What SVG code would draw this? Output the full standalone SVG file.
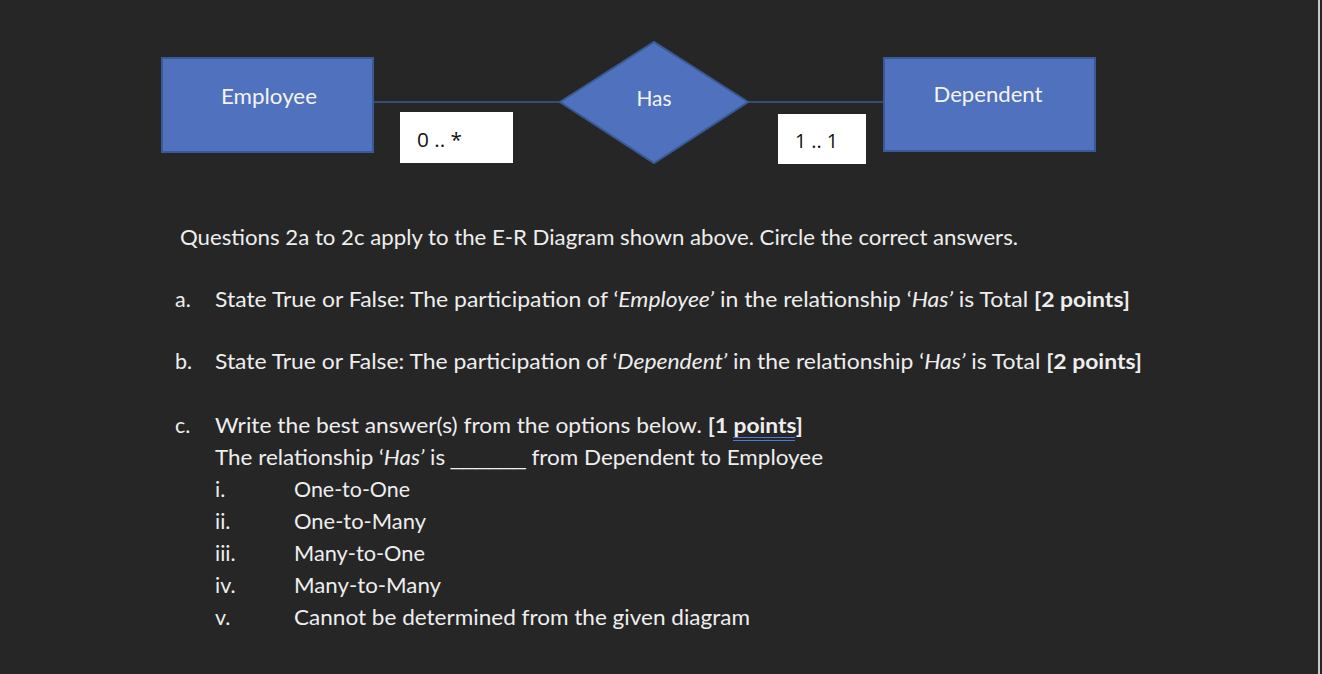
<svg xmlns="http://www.w3.org/2000/svg" width="1322" height="674" viewBox="0 0 1322 674">
<style>
.bg{fill:#262626}
.ent{fill:#4F71BE;stroke:#3A5A95;stroke-width:2}
.lbl{font-family:Lato,"Open Sans","Noto Sans",sans-serif;font-size:21.5px;fill:#F4F4F4;text-anchor:middle}
.card{fill:#FFFFFF}
.ctext{font-family:"Open Sans","Noto Sans",sans-serif;font-size:20px;fill:#111111}
.conn{stroke:#4472C4;stroke-width:1.2;fill:none}
.t{font-family:Lato,"Open Sans","Noto Sans",sans-serif;font-size:21.5px;fill:#EEEEEE}
.i{font-style:italic}
.b{font-weight:bold}
.u{font-family:"Liberation Sans",sans-serif}
</style>
<rect class="bg" x="0" y="0" width="1322" height="674"/>
<rect x="1318" y="0" width="2" height="674" fill="#C8C8C8"/>
<g id="connectors">
<line class="conn" x1="373" y1="102" x2="560" y2="102"/>
<line class="conn" x1="748" y1="102" x2="883" y2="102"/>
</g>
<g id="employee">
<rect class="ent" x="162" y="58" width="211" height="94"/>
<text class="lbl" x="269" y="104" textLength="96" lengthAdjust="spacingAndGlyphs">Employee</text>
</g>
<g id="has">
<polygon class="ent" points="560,102 654,42 748,102 654,163" stroke-width="1.5"/>
<text class="lbl" x="654" y="106" textLength="35" lengthAdjust="spacingAndGlyphs">Has</text>
</g>
<g id="dependent">
<rect class="ent" x="884" y="58" width="211" height="93"/>
<text class="lbl" x="988" y="102" textLength="109" lengthAdjust="spacingAndGlyphs">Dependent</text>
</g>
<g id="card-employee">
<rect class="card" x="400" y="112" width="113" height="51"/>
<text class="ctext" x="417" y="147" textLength="45" lengthAdjust="spacingAndGlyphs">0 .. *</text>
</g>
<g id="card-dependent">
<rect class="card" x="778" y="114" width="88" height="50"/>
<text class="ctext" x="795" y="148" textLength="43" lengthAdjust="spacingAndGlyphs">1 .. 1</text>
</g>
<g id="questions">
<text class="t" x="180" y="245" textLength="838" lengthAdjust="spacingAndGlyphs">Questions 2a to 2c apply to the E-R Diagram shown above. Circle the correct answers.</text>
<text class="t" x="175" y="307">a.</text>
<text class="t" x="215" y="307" textLength="915" lengthAdjust="spacingAndGlyphs">State True or False: The participation of ‘<tspan class="i">Employee’</tspan> in the relationship ‘<tspan class="i">Has’</tspan> is Total <tspan class="b">[2 points]</tspan></text>
<text class="t" x="175" y="369">b.</text>
<text class="t" x="215" y="369" textLength="927" lengthAdjust="spacingAndGlyphs">State True or False: The participation of ‘<tspan class="i">Dependent’</tspan> in the relationship ‘<tspan class="i">Has’</tspan> is Total <tspan class="b">[2 points]</tspan></text>
<text class="t" x="175" y="433">c.</text>
<text class="t" x="215" y="433" textLength="588" lengthAdjust="spacingAndGlyphs">Write the best answer(s) from the options below. <tspan class="b">[1 points]</tspan></text>
<line x1="733" y1="437.5" x2="795" y2="437.5" stroke="#4A78DC" stroke-width="1.2"/>
<line x1="733" y1="440.5" x2="795" y2="440.5" stroke="#4A78DC" stroke-width="1.2"/>
<text class="t" x="215" y="465" textLength="608" lengthAdjust="spacingAndGlyphs">The relationship ‘<tspan class="i">Has’</tspan> is <tspan class="u">______</tspan> from Dependent to Employee</text>
<text class="t" x="215" y="497">i.</text>
<text class="t" x="294" y="497" textLength="116" lengthAdjust="spacingAndGlyphs">One-to-One</text>
<text class="t" x="215" y="529">ii.</text>
<text class="t" x="294" y="529" textLength="132" lengthAdjust="spacingAndGlyphs">One-to-Many</text>
<text class="t" x="215" y="561">iii.</text>
<text class="t" x="294" y="561" textLength="131" lengthAdjust="spacingAndGlyphs">Many-to-One</text>
<text class="t" x="215" y="593">iv.</text>
<text class="t" x="294" y="593" textLength="147" lengthAdjust="spacingAndGlyphs">Many-to-Many</text>
<text class="t" x="215" y="625">v.</text>
<text class="t" x="294" y="625" textLength="456" lengthAdjust="spacingAndGlyphs">Cannot be determined from the given diagram</text>
</g>
</svg>
